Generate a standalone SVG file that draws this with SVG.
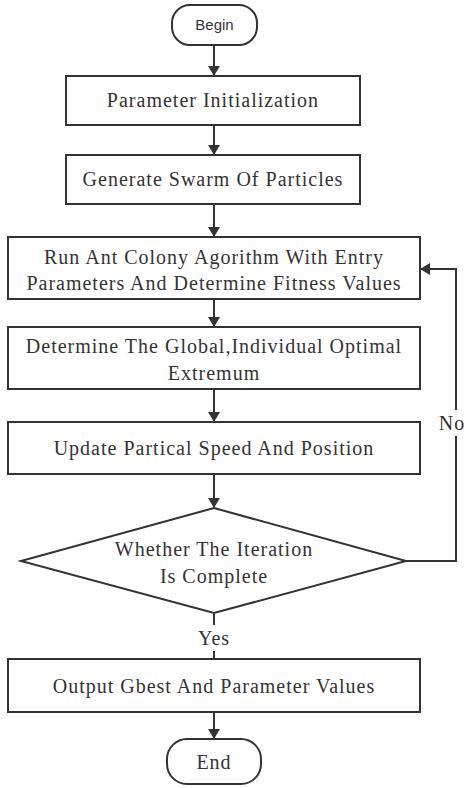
<svg xmlns="http://www.w3.org/2000/svg" width="474" height="788" viewBox="0 0 474 788">
<defs>
<marker id="ah" markerWidth="10" markerHeight="12" refX="9" refY="6" orient="auto" markerUnits="userSpaceOnUse">
<path d="M0,0 L10,6 L0,12 Z" fill="#333"/>
</marker>
<style>
.box{fill:#fff;stroke:#333;stroke-width:2}
.t{font-family:"Liberation Serif",serif;font-size:20px;letter-spacing:1px;fill:#333;text-anchor:middle}
.s{font-family:"Liberation Sans",sans-serif;font-size:15px;fill:#333;text-anchor:middle}
.c{fill:none;stroke:#333;stroke-width:2}
</style>
</defs>
<rect width="474" height="788" fill="#fff"/>
<g id="begin">
<rect class="box" x="172" y="5" width="85" height="40" rx="18"/>
<text class="s" x="214.5" y="30">Begin</text>
</g>
<g id="init">
<rect class="box" x="66" y="76" width="294" height="49"/>
<text class="t" x="213" y="107">Parameter Initialization</text>
</g>
<g id="swarm">
<rect class="box" x="66" y="155" width="294" height="49"/>
<text class="t" x="213" y="186">Generate Swarm Of Particles</text>
</g>
<g id="ant">
<rect class="box" x="8" y="237" width="412" height="62"/>
<text class="t" x="214" y="264">Run Ant Colony Agorithm With Entry</text>
<text class="t" x="214" y="290">Parameters And Determine Fitness Values</text>
</g>
<g id="extremum">
<rect class="box" x="8" y="327" width="412" height="62"/>
<text class="t" x="214" y="353">Determine The Global,Individual Optimal</text>
<text class="t" x="214" y="380">Extremum</text>
</g>
<g id="update">
<rect class="box" x="8" y="422" width="412" height="52"/>
<text class="t" x="214" y="455">Update Partical Speed And Position</text>
</g>
<g id="decision">
<polygon class="box" points="214,508 406,561 214,613 21,561"/>
<text class="t" x="214" y="556">Whether The Iteration</text>
<text class="t" x="214" y="583">Is Complete</text>
</g>
<g id="output">
<rect class="box" x="8" y="659" width="412" height="53"/>
<text class="t" x="214" y="693">Output Gbest And Parameter Values</text>
</g>
<g id="end">
<rect class="box" x="167" y="739" width="94" height="45" rx="20"/>
<text class="t" x="214" y="769">End</text>
</g>
<g id="connectors">
<line class="c" x1="214" y1="46" x2="214" y2="75" marker-end="url(#ah)"/>
<line class="c" x1="214" y1="126" x2="214" y2="154" marker-end="url(#ah)"/>
<line class="c" x1="214" y1="205" x2="214" y2="236" marker-end="url(#ah)"/>
<line class="c" x1="214" y1="300" x2="214" y2="326" marker-end="url(#ah)"/>
<line class="c" x1="214" y1="390" x2="214" y2="421" marker-end="url(#ah)"/>
<line class="c" x1="214" y1="475" x2="214" y2="507" marker-end="url(#ah)"/>
<polyline class="c" points="406,561 456,561 456,269 421,269" marker-end="url(#ah)"/>
<line class="c" x1="214" y1="614" x2="214" y2="658"/>
<line class="c" x1="214" y1="713" x2="214" y2="738" marker-end="url(#ah)"/>
<rect x="440" y="410" width="24" height="26" fill="#fff"/>
<text class="t" x="452" y="430">No</text>
<rect x="196" y="625" width="36" height="26" fill="#fff"/>
<text class="t" x="214" y="645">Yes</text>
</g>
</svg>
